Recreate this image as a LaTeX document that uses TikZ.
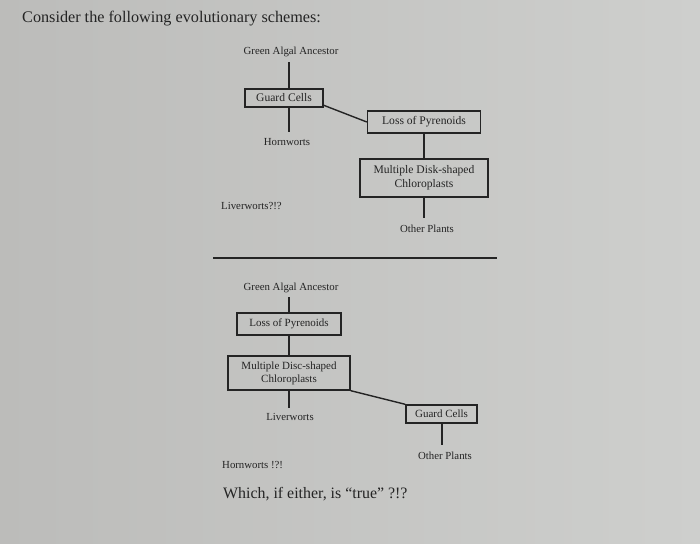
\documentclass[tikz,border=0pt]{standalone}
\usepackage{fontspec}
\setmainfont{Liberation Serif}
\definecolor{paperdark}{RGB}{188,188,186}
\definecolor{paperlight}{RGB}{206,207,205}
\definecolor{ink}{RGB}{36,36,36}
\begin{document}
\begin{tikzpicture}[x=1pt,y=-1pt,
  lab/.style={inner sep=0pt,font=\fontsize{10.8}{13}\selectfont,text=ink},
  box/.style={draw=ink,line width=1.4pt,inner sep=0pt,text=ink,align=center},
  tb/.style={font=\fontsize{11.6}{14}\selectfont},
  bb/.style={font=\fontsize{11}{13}\selectfont},
  link/.style={draw=ink,line width=1.4pt},
  big/.style={inner sep=0pt,font=\fontsize{16.2}{19}\selectfont,text=ink,anchor=base west}]
\useasboundingbox (0,0) rectangle (700,543);
\shade[left color=paperdark,right color=paperlight] (0,0) rectangle (700,543);
\node[big] (title) at (22,23) {Consider the following evolutionary schemes:};
% top scheme
\node[lab] (ga1) at (291,52) {Green Algal Ancestor};
\node[box,tb,minimum width=78pt,minimum height=18pt] (gc1) at (284,98) {Guard Cells};
\node[box,tb,minimum width=113pt,minimum height=22pt] (lp1) at (424,122) {Loss of Pyrenoids};
\node[box,tb,minimum width=128pt,minimum height=38pt] (md1) at (424,178) {Multiple Disk-shaped\\Chloroplasts};
\node[lab] (hw1) at (287,142) {Hornworts};
\node[lab] (op1) at (427,229) {Other Plants};
\node[lab,anchor=west] (lw1) at (221,206) {Liverworts?!?};
\coordinate (ga1b) at (289,62);
\coordinate (hw1t) at (289,132);
\coordinate (op1t) at (424,218);
\coordinate (gc1e) at (323,105);
\draw[link] (ga1b) -- (ga1b |- gc1.north);
\draw[link] (gc1.south -| hw1t) -- (hw1t);
\draw[link] (gc1e) -- (lp1.west);
\draw[link] (lp1.south -| md1.north) -- (md1.north);
\draw[link] (md1.south) -- (op1t);
\coordinate (r1) at (213,258);
\coordinate (r2) at (497,258);
\draw[draw=ink,line width=2pt] (r1) -- (r2);
% bottom scheme
\node[lab] (ga2) at (291,288) {Green Algal Ancestor};
\node[box,bb,minimum width=104pt,minimum height=22pt] (lp2) at (289,324) {Loss of Pyrenoids};
\node[box,bb,minimum width=122pt,minimum height=34pt] (md2) at (289,373) {Multiple Disc-shaped\\Chloroplasts};
\node[lab] (lw2) at (290,417) {Liverworts};
\node[box,bb,minimum width=71pt,minimum height=18pt] (gc2) at (441.5,414) {Guard Cells};
\node[lab] (op2) at (445,456) {Other Plants};
\node[lab,anchor=west] (hw2) at (222,465) {Hornworts !?!};
\coordinate (ga2b) at (289,297);
\coordinate (lw2t) at (289,408);
\coordinate (op2t) at (442,445);
\draw[link] (ga2b) -- (lp2.north -| ga2b);
\draw[link] (lp2.south -| ga2b) -- (md2.north -| ga2b);
\draw[link] (md2.south -| lw2t) -- (lw2t);
\draw[link] (md2.south east) -- (gc2.north west);
\draw[link] (gc2.south -| op2t) -- (op2t);
\node[big,font=\fontsize{15.9}{19}\selectfont] (q) at (223,498) {Which, if either, is “true” ?!?};
\end{tikzpicture}
\end{document}
